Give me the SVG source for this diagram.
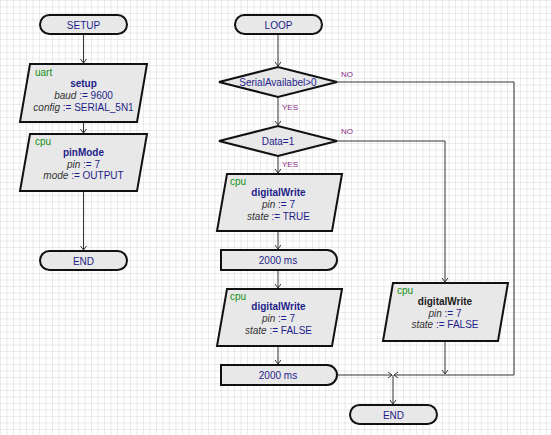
<svg xmlns="http://www.w3.org/2000/svg" width="551" height="435" viewBox="0 0 551 435">
<defs>
<pattern id="grid" width="6.5" height="6.5" patternUnits="userSpaceOnUse">
<path d="M6.5 0 L0 0 0 6.5" fill="none" stroke="#cfcfcf" stroke-width="0.8"/>
</pattern>
<marker id="arr" markerWidth="8" markerHeight="8" refX="4" refY="3" orient="auto" markerUnits="userSpaceOnUse">
<path d="M0,0 L4,3 L0,6" fill="none" stroke="#333" stroke-width="1"/>
</marker>
<style>
.shape{fill:#e8e8e8;stroke:#111;stroke-width:2}
.t{font-family:"Liberation Sans",Arial,sans-serif;font-size:10px;fill:#1e1e8a;text-anchor:middle}
.b{font-weight:bold}
.i{font-style:italic;fill:#333}
.g{font-family:"Liberation Sans",Arial,sans-serif;font-size:10px;fill:#159015}
.lbl{font-family:"Liberation Sans",Arial,sans-serif;font-size:8px;fill:#8a2a8a}
.c{fill:none;stroke:#333;stroke-width:1}
</style>
</defs>
<rect width="551" height="435" fill="#fff"/>
<rect width="551" height="435" fill="url(#grid)"/>

<g id="connectors">
<path class="c" d="M83.5,34 V63" marker-end="url(#arr)"/>
<path class="c" d="M83.5,122 V133" marker-end="url(#arr)"/>
<path class="c" d="M83.5,191 V250" marker-end="url(#arr)"/>
<path class="c" d="M278,34 V66" marker-end="url(#arr)"/>
<path class="c" d="M278,97 V125" marker-end="url(#arr)"/>
<path class="c" d="M278,156 V173" marker-end="url(#arr)"/>
<path class="c" d="M278,231 V249" marker-end="url(#arr)"/>
<path class="c" d="M278,270 V288" marker-end="url(#arr)"/>
<path class="c" d="M278,346 V364" marker-end="url(#arr)"/>
<path class="c" d="M337,82 H514 V375 H394" marker-end="url(#arr)"/>
<path class="c" d="M337,141 H445 V282" marker-end="url(#arr)"/>
<path class="c" d="M445,341 V374" marker-end="url(#arr)"/>
<path class="c" d="M337,375 H392" marker-end="url(#arr)"/>
<path class="c" d="M393,375 V404" marker-end="url(#arr)"/>
<text class="lbl" x="341" y="77">NO</text>
<text class="lbl" x="282" y="110">YES</text>
<text class="lbl" x="341" y="134">NO</text>
<text class="lbl" x="282" y="167">YES</text>
</g>

<g id="setup">
<rect class="shape" x="40" y="15" width="87" height="19" rx="9.5"/>
<text class="t" x="83.5" y="28.5">SETUP</text>
</g>
<g id="uart-setup">
<path class="shape" d="M30,64 L147,64 L137,122 L20,122 Z"/>
<text class="g" x="35" y="76">uart</text>
<text class="t b" x="83.5" y="87">setup</text>
<text class="t" x="83.5" y="99"><tspan class="i">baud</tspan> := 9600</text>
<text class="t" x="83.5" y="111"><tspan class="i">config</tspan> := SERIAL_5N1</text>
</g>
<g id="pinmode">
<path class="shape" d="M30,134 L147,134 L137,191 L20,191 Z"/>
<text class="g" x="35" y="145">cpu</text>
<text class="t b" x="83.5" y="156">pinMode</text>
<text class="t" x="83.5" y="168"><tspan class="i">pin</tspan> := 7</text>
<text class="t" x="83.5" y="179"><tspan class="i">mode</tspan> := OUTPUT</text>
</g>
<g id="end1">
<rect class="shape" x="40" y="251" width="87" height="19" rx="9.5"/>
<text class="t" x="83.5" y="264.5">END</text>
</g>

<g id="loop">
<rect class="shape" x="235" y="15" width="87" height="19" rx="9.5"/>
<text class="t" x="278.5" y="28.5">LOOP</text>
</g>
<g id="cond-serial">
<path class="shape" d="M219,82 L278,67 L337,82 L278,97 Z"/>
<text class="t" x="278" y="85.5">SerialAvailabel&gt;0</text>
</g>
<g id="cond-data">
<path class="shape" d="M219,141 L278,126 L337,141 L278,156 Z"/>
<text class="t" x="278" y="144.5">Data=1</text>
</g>
<g id="dw-true">
<path class="shape" d="M227,174 L342,174 L332,231 L217,231 Z"/>
<text class="g" x="230" y="185">cpu</text>
<text class="t b" x="278.5" y="196">digitalWrite</text>
<text class="t" x="278.5" y="208"><tspan class="i">pin</tspan> := 7</text>
<text class="t" x="278.5" y="219.5"><tspan class="i">state</tspan> := TRUE</text>
</g>
<g id="delay1">
<path class="shape" d="M221,250 H327 A10,10 0 0 1 327,270 H221 Z"/>
<text class="t" x="278" y="263.5">2000 ms</text>
</g>
<g id="dw-false1">
<path class="shape" d="M227,289 L342,289 L332,346 L217,346 Z"/>
<text class="g" x="230" y="300">cpu</text>
<text class="t b" x="278.5" y="310">digitalWrite</text>
<text class="t" x="278.5" y="322"><tspan class="i">pin</tspan> := 7</text>
<text class="t" x="278.5" y="333.5"><tspan class="i">state</tspan> := FALSE</text>
</g>
<g id="delay2">
<path class="shape" d="M221,365 H327 A10,10 0 0 1 327,385 H221 Z"/>
<text class="t" x="278" y="378.5">2000 ms</text>
</g>
<g id="dw-false2">
<path class="shape" d="M393,283 L508,283 L498,341 L383,341 Z"/>
<text class="g" x="397" y="294">cpu</text>
<text class="t b" x="445" y="304.5" style="fill:#1a1a1a">digitalWrite</text>
<text class="t" x="445" y="316.5"><tspan class="i">pin</tspan> := 7</text>
<text class="t" x="445" y="328"><tspan class="i">state</tspan> := FALSE</text>
</g>
<g id="end2">
<rect class="shape" x="350" y="405" width="87" height="19" rx="9.5"/>
<text class="t" x="393.5" y="418.5">END</text>
</g>
</svg>
